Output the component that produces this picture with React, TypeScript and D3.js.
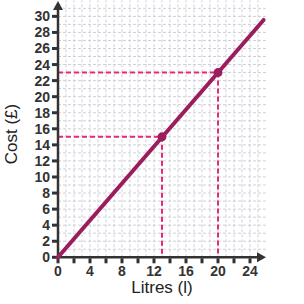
import React from 'react';
import * as d3 from 'd3';

// data
const slope = 23 / 20; // £ per litre
const lineEnd = 25.7; // litres where the drawn line stops
const points = [
  {litres: 13, cost: 15},
  {litres: 20, cost: 23},
];
const yTicks = d3.range(0, 31, 2);
const xTicks = d3.range(0, 25, 2);
const xLabels = [0, 4, 8, 12, 16, 20, 24];

const W = 304, H = 304;
const axisCol = '#333333';
const lineCol = '#9c1d5d';
const dashCol = '#e8277a';
const gridCol = '#cfcfdc';

export default function App(){
  const x = d3.scaleLinear().domain([0, 26]).range([58, 266]);
  const y = d3.scaleLinear().domain([0, 32]).range([257.3, 0.3]);
  const line = d3.line<number>().x(d => x(d)).y(d => y(d * slope));

  return (
    <svg width={W} height={H} style={{position: 'absolute', left: 0, top: 0}}
      fontFamily="'Liberation Sans', Arial, sans-serif">
      {/* grid */}
      <g stroke={gridCol} strokeWidth={1} strokeDasharray="3,2">
        {d3.range(1, 26).map(i => (
          <line key={'v'+i} x1={x(i)} x2={x(i)} y1={y(0)} y2={y(32)}/>
        ))}
        {d3.range(1, 32).map(i => (
          <line key={'h'+i} x1={x(0)} x2={x(26)} y1={y(i)} y2={y(i)}/>
        ))}
      </g>

      {/* dashed guides */}
      <g stroke={dashCol} strokeWidth={2} strokeDasharray="5,3" fill="none">
        {points.map((p, i) => (
          <g key={i}>
            <line x1={x(0)} x2={x(p.litres)} y1={y(p.cost)} y2={y(p.cost)}/>
            <line x1={x(p.litres)} x2={x(p.litres)} y1={y(p.cost)} y2={y(0)}/>
          </g>
        ))}
      </g>

      {/* axes */}
      <g fill={axisCol}>
        <line x1={x(0)} x2={x(0)} y1={y(0) + 1.5} y2={8} stroke={axisCol} strokeWidth={2.5}/>
        <path d={`M${x(0)},1 L${x(0) - 5},10 L${x(0) + 5},10 Z`}/>
        <line x1={x(0) - 1.2} x2={259} y1={y(0)} y2={y(0)} stroke={axisCol} strokeWidth={2.5}/>
        <path d={`M266,${y(0)} L257,${y(0) - 5} L257,${y(0) + 5} Z`}/>
        {yTicks.map(t => (
          <rect key={'yt'+t} x={x(0) - 6} y={y(t) - 1.5} width={5} height={3}/>
        ))}
        {xTicks.map(t => (
          <rect key={'xt'+t} x={x(t) - 1.5} y={y(0) + 1} width={3} height={5}/>
        ))}
      </g>

      {/* the line */}
      <path d={line([0, lineEnd]) || ''} stroke={lineCol} strokeWidth={4} fill="none" strokeLinecap="round"/>
      {points.map((p, i) => (
        <circle key={i} cx={x(p.litres)} cy={y(p.cost)} r={4.5} fill={lineCol}/>
      ))}

      {/* tick labels */}
      <g fill={axisCol} fontWeight="bold" fontSize={14}>
        {yTicks.map(t => (
          <text key={'yl'+t} x={50} y={y(t) + 5} textAnchor="end">{t}</text>
        ))}
        {xLabels.map(t => (
          <text key={'xl'+t} x={x(t)} y={276} textAnchor="middle">{t}</text>
        ))}
      </g>

      {/* axis titles */}
      <text x={162} y={293} textAnchor="middle" fontSize={17} fill="#222">Litres (l)</text>
      <text transform="translate(17,134) rotate(-90)" textAnchor="middle" fontSize={17} fill="#222">Cost (£)</text>
    </svg>
  );
}
